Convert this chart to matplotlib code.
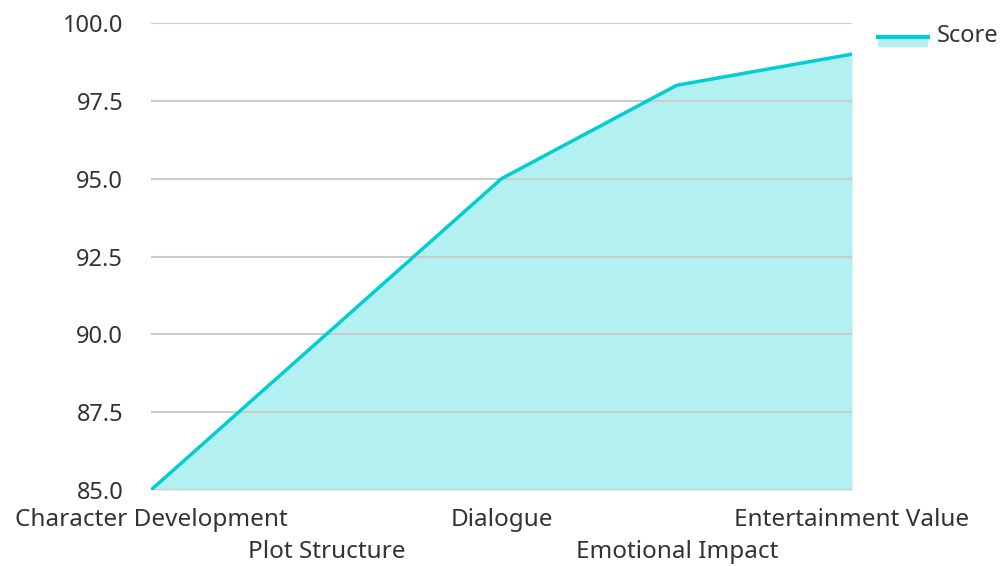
import matplotlib.pyplot as plt
from matplotlib.patches import Rectangle
from matplotlib.lines import Line2D

plt.rcParams['font.family'] = ['Noto Sans', 'DejaVu Sans']

categories = ["Character Development", "Plot Structure", "Dialogue",
              "Emotional Impact", "Entertainment Value"]
scores = [85, 90, 95, 98, 99]
yticks = [85, 87.5, 90, 92.5, 95, 97.5, 100]

fig = plt.figure(figsize=(10.01, 5.66), dpi=100)
ax = fig.add_axes([151 / 1001, 1 - 490 / 566, (852 - 151) / 1001, (490 - 23) / 566])

x = list(range(len(categories)))
ax.fill_between(x, 85, scores, color="#00CED1", alpha=0.3, linewidth=0, zorder=1)
ax.plot(x, scores, color="#00CED1", linewidth=2.5, zorder=3)

ax.set_xlim(0, len(categories) - 1)
ax.set_ylim(85, 100)
ax.set_yticks(yticks)
ax.set_yticklabels([f"{v:.1f}" for v in yticks])
ax.set_xticks(x)
ax.set_xticklabels(categories)
for i, lab in enumerate(ax.get_xticklabels()):
    if i % 2 == 1:
        lab.set_y(-0.069)

ax.grid(axis="y", color="#cccccc", linewidth=1.5, zorder=2)
ax.set_axisbelow(False)
for s in ax.spines.values():
    s.set_visible(False)
ax.tick_params(length=0, colors="#333333")
ax.tick_params(axis="x", pad=13, labelsize=17.5)
ax.tick_params(axis="y", pad=20, labelsize=17)

# legend: line over a pale patch
fig.patches.append(Rectangle((878 / 1001, 1 - 47 / 566), 50 / 1001, 11 / 566,
                             transform=fig.transFigure, facecolor="#00CED1",
                             alpha=0.3, linewidth=0))
fig.lines.append(Line2D([878 / 1001, 928 / 1001], [1 - 37 / 566, 1 - 37 / 566],
                        transform=fig.transFigure, color="#00CED1", linewidth=3))
fig.text(937 / 1001, 1 - 36 / 566, "Score", fontsize=17, color="#333333", va="center", ha="left")

fig.savefig("out.png", dpi=100)
